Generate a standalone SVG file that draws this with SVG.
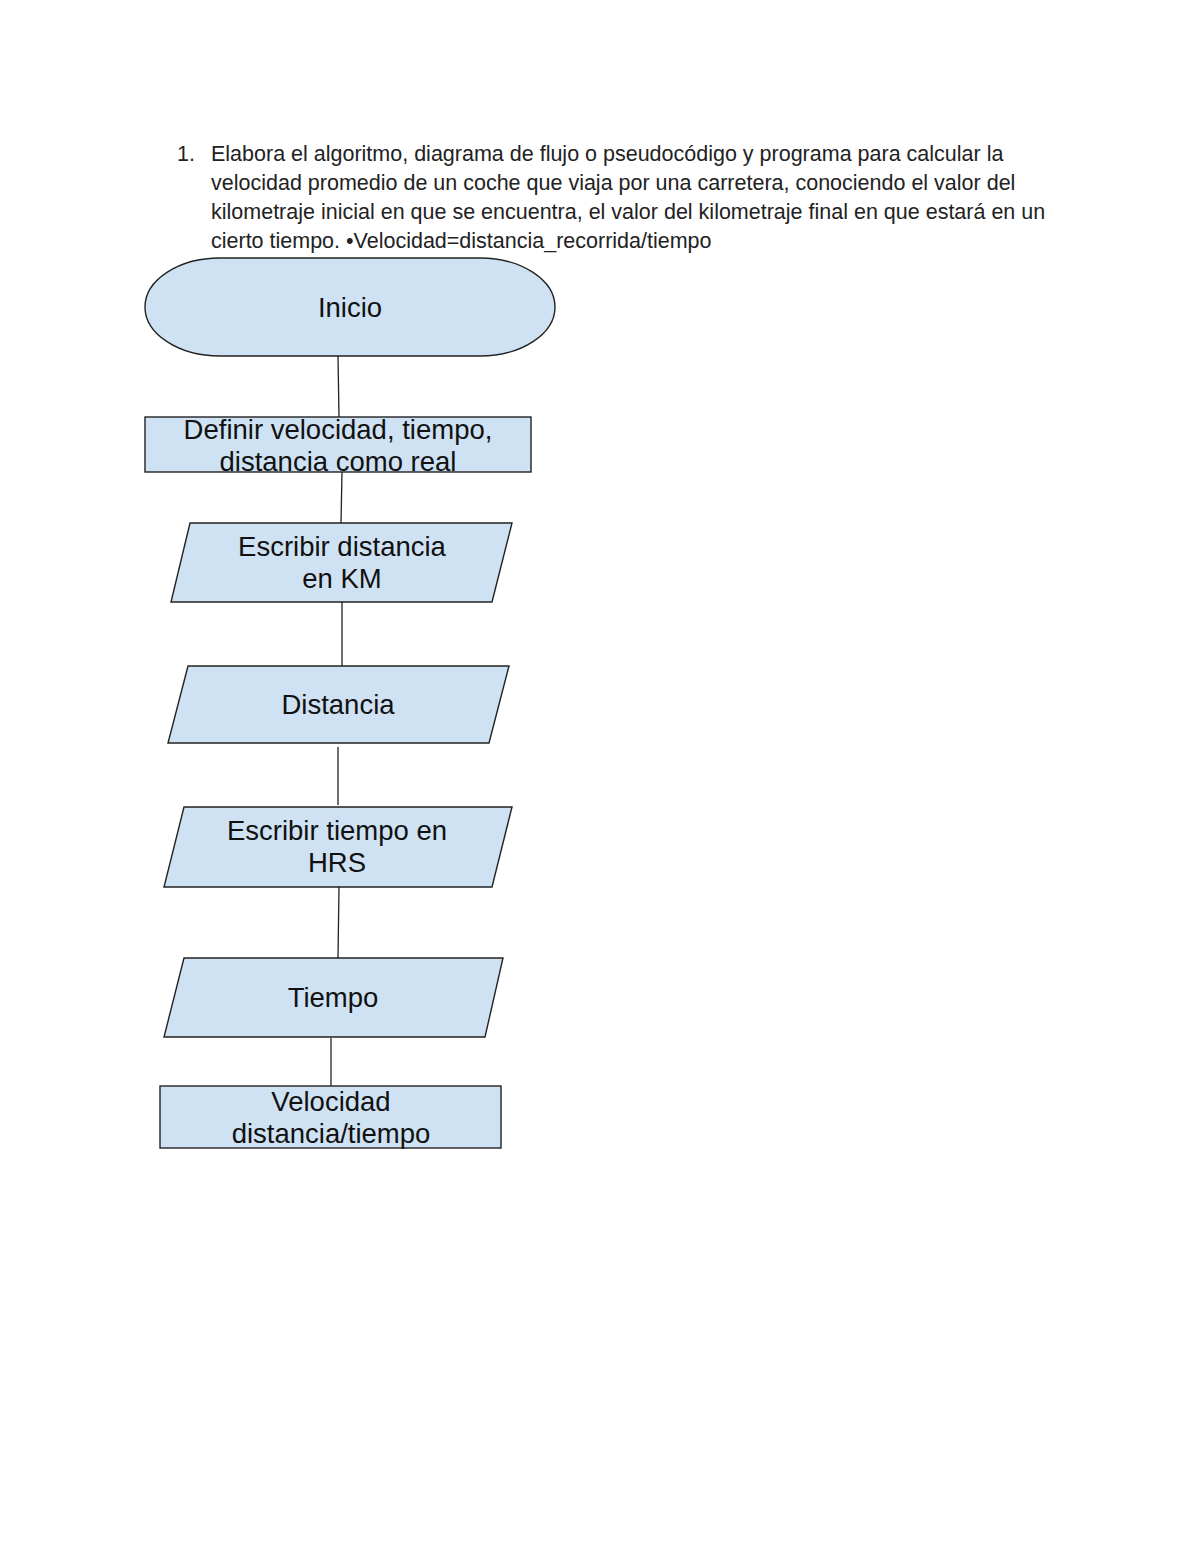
<svg xmlns="http://www.w3.org/2000/svg" width="1200" height="1553" viewBox="0 0 1200 1553">
<style>
.bg{fill:#ffffff}
.shape{fill:#cfe2f3;stroke:#222222;stroke-width:1.4}
.lbl{font-family:"Liberation Sans",Arial,sans-serif;font-size:27.5px;fill:#111111;text-anchor:middle}
.q{font-family:"Liberation Sans",Arial,sans-serif;font-size:21.5px;fill:#222222}
.conn{stroke:#222222;stroke-width:1.3;fill:none}
</style>
<rect class="bg" x="0" y="0" width="1200" height="1553"/>
<g id="question">
<text class="q" x="177" y="161">1.</text>
<text class="q" x="211" y="161">Elabora el algoritmo, diagrama de flujo o pseudocódigo y programa para calcular la</text>
<text class="q" x="211" y="190">velocidad promedio de un coche que viaja por una carretera, conociendo el valor del</text>
<text class="q" x="211" y="219">kilometraje inicial en que se encuentra, el valor del kilometraje final en que estará en un</text>
<text class="q" x="211" y="248">cierto tiempo. •Velocidad=distancia_recorrida/tiempo</text>
</g>
<g id="connectors">
<line class="conn" x1="338" y1="356" x2="339" y2="417"/>
<line class="conn" x1="342" y1="472" x2="341" y2="523"/>
<line class="conn" x1="342" y1="602" x2="342" y2="666"/>
<line class="conn" x1="338" y1="747" x2="338" y2="805"/>
<line class="conn" x1="339" y1="887" x2="338" y2="958"/>
<line class="conn" x1="331" y1="1038" x2="331" y2="1086"/>
</g>
<g id="inicio">
<rect class="shape" x="145" y="258" width="410" height="98" rx="75" ry="49"/>
<text class="lbl" x="350" y="317">Inicio</text>
</g>
<g id="definir">
<rect class="shape" x="145" y="417" width="386" height="55"/>
<text class="lbl" x="338" y="439">Definir velocidad, tiempo,</text>
<text class="lbl" x="338" y="471">distancia como real</text>
</g>
<g id="escribir-distancia">
<polygon class="shape" points="190,523 512,523 492,602 171,602"/>
<text class="lbl" x="342" y="556">Escribir distancia</text>
<text class="lbl" x="342" y="588">en KM</text>
</g>
<g id="distancia">
<polygon class="shape" points="188,666 509,666 489,743 168,743"/>
<text class="lbl" x="338" y="714">Distancia</text>
</g>
<g id="escribir-tiempo">
<polygon class="shape" points="184,807 512,807 492,887 164,887"/>
<text class="lbl" x="337" y="840">Escribir tiempo en</text>
<text class="lbl" x="337" y="872">HRS</text>
</g>
<g id="tiempo">
<polygon class="shape" points="184,958 503,958 485,1037 164,1037"/>
<text class="lbl" x="333" y="1007">Tiempo</text>
</g>
<g id="velocidad">
<rect class="shape" x="160" y="1086" width="341" height="62"/>
<text class="lbl" x="331" y="1111">Velocidad</text>
<text class="lbl" x="331" y="1143">distancia/tiempo</text>
</g>
</svg>
